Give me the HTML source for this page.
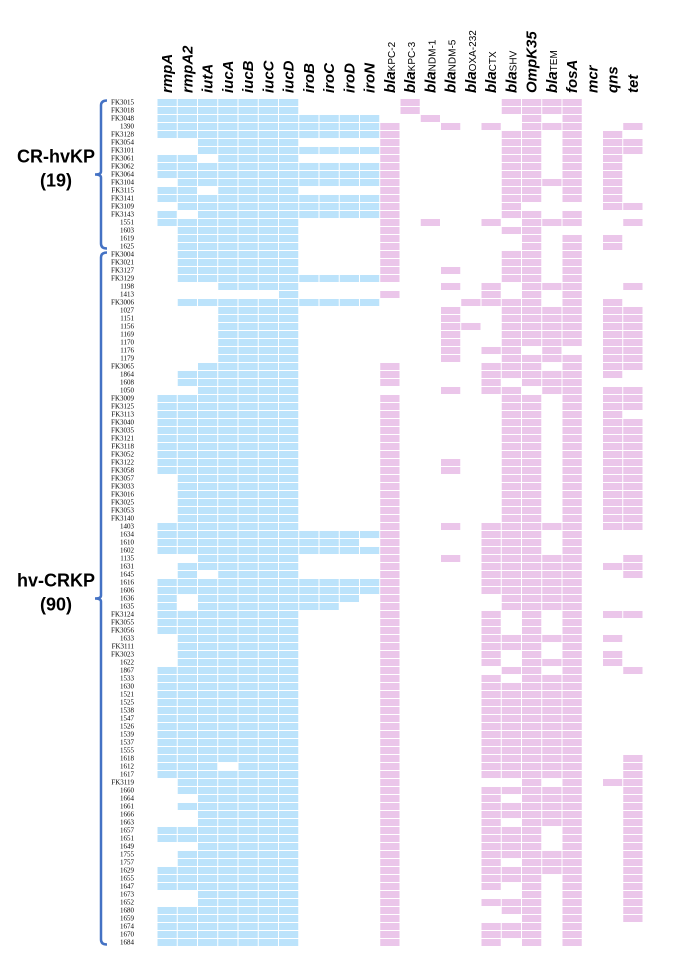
<!DOCTYPE html>
<html><head><meta charset="utf-8">
<style>
body{margin:0;background:#fff;width:685px;height:977px;overflow:hidden}
svg{display:block}
</style></head>
<body>
<svg id="chart" width="685" height="977" xmlns="http://www.w3.org/2000/svg"></svg>
<script>
const genes=["rmpA","rmpA2","iutA","iucA","iucB","iucC","iucD","iroB","iroC","iroD","iroN","bla|KPC-2","bla|KPC-3","bla|NDM-1","bla|NDM-5","bla|OXA-232","bla|CTX","bla|SHV","OmpK35","bla|TEM","fosA","mcr","qns","tet"];
const isolates=["FK3015","FK3018","FK3048","1390","FK3128","FK3054","FK3101","FK3061","FK3062","FK3064","FK3104","FK3115","FK3141","FK3109","FK3143","1551","1603","1619","1625",
"FK3004","FK3021","FK3127","FK3129","1198","1413","FK3006","1027","1151","1156","1169","1170","1176","1179","FK3065","1864","1608","1050","FK3009","FK3125","FK3113","FK3040","FK3035","FK3121","FK3118","FK3052","FK3122","FK3058","FK3057","FK3033","FK3016","FK3025","FK3053","FK3140","1403","1634","1610","1602","1135","1631","1645","1616","1606","1636","1635","FK3124","FK3055","FK3056","1633","FK3111","FK3023","1622","1867","1533","1630","1521","1525","1538","1547","1526","1539","1537","1555","1618","1612","1617","FK3119","1660","1664","1661","1666","1663","1657","1651","1649","1755","1757","1629","1655","1647","1673","1652","1680","1659","1674","1670","1684"];
const presence=["0-6,12,17-20","0-6,12,17-20","0-10,13,18,20","0-10,11,14,16,18-20,23","0-10,11,17,18,20,22","2-6,11,17,18,20,22,23","2-10,11,17,18,20,22,23","0,1,3-6,11,17,18,20,22","0-10,11,17,18,20,22","0-10,11,17,18,20,22","1-10,11,17-20,22","0,1,3-6,11,17,18,20,22","0-10,11,17,18,20,22","1-10,11,17,22,23","0,2-10,11,17,18,20","0-6,11,13,16,18-20,23","1-6,11,17,18","1-6,11,18,20,22","1-6,11,18,20,22",
"1-6,11,17,18,20","1-6,11,17,18,20","1-6,11,14,17,18,20","1-10,11,17,18,20","3-6,14,16,18-20,23","6,11,16,18,20","1-10,15-18,20,22","3-6,14,17-20,22,23","3-6,14,17-20,22,23","3-6,14,15,17-20,22,23","3-6,14,17-20,22,23","3-6,14,17-20,22,23","3-6,14,16,17,19,22,23","3-6,14,17-20,22,23","2-6,11,16-18,20,22,23","1-6,11,16-20,22","1-6,11,16,18-20","2-6,14,16,17,19,20,22,23",
"0-6,11,17,18,20,22,23","0-6,11,17,18,20,22,23","0-6,11,17,18,20,22","0-6,11,17,18,20,22,23","0-6,11,17,18,20,22,23","0-6,11,17,18,20,22,23","0-6,11,17,18,20,22,23","0-6,11,17,18,20,22,23","0-6,11,14,17,18,20,22,23","0-6,11,14,17,18,20,22,23","1-6,11,17,18,20,22,23","1-6,11,17,18,20,22,23","1-6,11,17,18,20,22,23","1-6,11,17,18,20,22,23","1-6,11,17,18,20,22,23","1-6,11,17,18,20,22,23","0-6,11,14,16-20,22,23","0-10,11,16-18,20","0-9,11,16-18,20","0-10,11,16-18,20","2-6,11,14,16-20,23","1-6,11,16-20,22,23","1,3-6,11,16-20,23","0-10,11,16-20","0-10,11,16-20","0,2-9,11,17-20","0,2-8,11,17-20","0-6,11,16,18,20,22,23","0-6,11,16,18,20","0-6,11,16,18,20","1-6,11,16-20,22","1-6,11,16-18,20","1-6,11,16,18,20,22","1-6,11,16,18-20,22","0-6,11,17,18,20,23","0-6,11,16,18-20","0-6,11,16-20","0-6,11,16-20","0-6,11,16-20","0-6,11,16-20","0-6,11,16-20","0-6,11,16-20","0-6,11,16-20","0-6,11,16-20","0-6,11,16-20","0-6,11,16-20,23","0-2,4-6,11,16-20,23","0-6,11,16-20,23","1-6,11,18,20,22,23","1-6,11,16-20,23","2-6,11,16,18-20,23","1-6,11,16-20,23","2-6,11,16-20,23","2-6,11,16,18-20,23","0-6,11,16-18,20,23","0-6,11,16-18,20,23","2-6,11,16-18,20,23","1-6,11,16-20,23","1-6,11,16,18-20,23","0-6,11,16-20,23","0-6,11,16-18,20,23","0-6,11,16,18,20,23","2-6,11,18,20,23","2-6,11,16-18,20,23","0-6,11,17,18,20,23","0-6,11,18,20,23","0-6,11,16-18,20","0-6,11,16-18,20","0-6,11,16,18,20"];
const groupNames=["CR-hvKP","hv-CRKP"];
const groupCounts=["(19)","(90)"];
const groupSizes=[19,87];

const svg=document.getElementById('chart');
const NS="http://www.w3.org/2000/svg";
const x0=157,cw=20.25,y0=98.5,rh=8.0;
const xPos=i=>x0+i*cw, yPos=r=>y0+r*rh;
function mk(t,a){const e=document.createElementNS(NS,t);for(const k in a)e.setAttribute(k,a[k]);svg.appendChild(e);return e;}
function parse(s){const set=new Set();s.split(',').forEach(p=>{const [a,b]=p.split('-').map(Number);for(let i=a;i<=(b===undefined?a:b);i++)set.add(i);});return set;}

genes.forEach((g,i)=>{
  const cx=xPos(i)+cw/2+5;
  const t=mk('text',{transform:`translate(${cx},93) rotate(-90)`,'font-family':'Liberation Sans, sans-serif','font-size':'15','font-weight':'bold','font-style':'italic',fill:'#000'});
  
  
  const parts=g.split('|');
  t.textContent=parts[0];
  if(parts[1]){const s=document.createElementNS(NS,'tspan');s.setAttribute('font-size','10');s.setAttribute('font-style','normal');s.setAttribute('font-weight','normal');s.textContent=parts[1];t.appendChild(s);}
});

isolates.forEach((name,r)=>{
  const y=yPos(r);
  const lb=mk('text',{x:134,y:y+6,'text-anchor':'end','font-family':'Liberation Serif, serif','font-size':'7',fill:'#000'});
  
  
  lb.textContent=name;
  const set=parse(presence[r]);
  set.forEach(c=>{
    const rc=mk('rect',{x:xPos(c)+0.5,y:y+0.5,width:cw-1,height:rh-1,fill:c<=10?'#bce3fb':'#ebc6ea'});
    
    
  });
});

let start=0;
groupSizes.forEach((n,g)=>{
  const top=yPos(start)+2, bot=yPos(start+n)-2, mid=(top+bot)/2;
  const p=mk('path',{d:`M107 ${top} Q101 ${top} 101 ${top+5} L101 ${mid-3} Q101 ${mid} 95 ${mid} Q101 ${mid} 101 ${mid+3} L101 ${bot-5} Q101 ${bot} 107 ${bot}`,fill:'none',stroke:'#4472c4','stroke-width':'2.5'});
  
  
  const t1=mk('text',{x:56,y:mid-12,'text-anchor':'middle','font-family':'Liberation Sans, sans-serif','font-size':'18','font-weight':'bold',fill:'#000'});
  
  
  t1.textContent=groupNames[g];
  const t2=mk('text',{x:56,y:mid+12,'text-anchor':'middle','font-family':'Liberation Sans, sans-serif','font-size':'18','font-weight':'bold',fill:'#000'});
  
  
  t2.textContent=groupCounts[g];
  start+=n;
});
</script>
</body></html>
